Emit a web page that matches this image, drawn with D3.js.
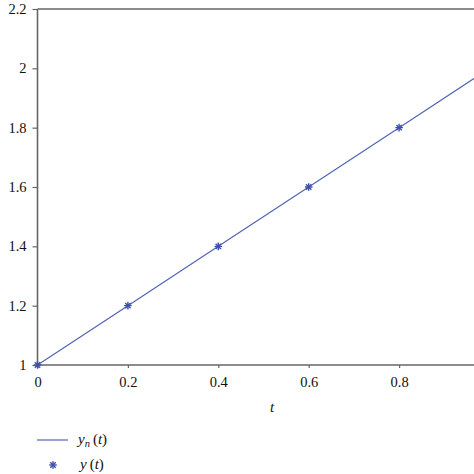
<!DOCTYPE html>
<html>
<head>
<meta charset="utf-8">
<script src="https://cdn.jsdelivr.net/npm/d3@7"></script>
<style>
  html, body { margin: 0; padding: 0; background: #fff; }
  svg { display: block; }
</style>
</head>
<body>
<svg id="chart" width="474" height="474"></svg>
<script>
// values
const tValues = [0, 0.2, 0.4, 0.6, 0.8, 1.0];
const ynValues = [1, 1.2, 1.4, 1.6, 1.8, 2.0];
const yExact = [1, 1.2, 1.4, 1.6, 1.8, 2.0];
const xTicks = [0, 0.2, 0.4, 0.6, 0.8];
const yTicks = [1, 1.2, 1.4, 1.6, 1.8, 2, 2.2];
const legendLabels = ["yn", "y"];

const svg = d3.select("#chart");
const FONT = "'Liberation Serif', 'Times New Roman', serif";
const AXIS_COLOR = "#666";
const LINE_COLOR = "#5264b4";
const MARK_COLOR = "#3c4fae";

const x = d3.scaleLinear().domain([0, 0.2]).range([37.5, 127.9]);
const y = d3.scaleLinear().domain([1, 2.2]).range([365, 9]);

const plotRight = 474;

// clip so the line runs off the right edge like the reference
svg.append("defs").append("clipPath").attr("id", "plot-clip")
  .append("rect")
    .attr("x", x(0) - 6).attr("y", y(2.2))
    .attr("width", plotRight - x(0) + 6).attr("height", y(1) - y(2.2) + 6);

// y axis
const yAxis = svg.append("g")
    .attr("transform", `translate(${x(0)},0)`)
    .call(d3.axisLeft(y).tickValues(yTicks).tickSize(5).tickPadding(6)
      .tickFormat(d => d3.format("~g")(d)));
yAxis.select(".domain").remove();

// x axis
const xAxis = svg.append("g")
    .attr("transform", `translate(0,${y(1)})`)
    .call(d3.axisBottom(x).tickValues(xTicks).tickSize(3).tickPadding(9)
      .tickFormat(d => d3.format("~g")(d)));
xAxis.select(".domain").remove();

[yAxis, xAxis].forEach(g => {
  g.attr("font-family", FONT).attr("font-size", 14.5);
  g.selectAll(".tick line").attr("stroke", AXIS_COLOR).attr("stroke-width", 1.2);
  g.selectAll(".tick text")
      .style("fill", "#111")
      .style("font-family", FONT)
      .style("font-size", "14.5px");
});

// frame lines (left, bottom, top)
const frame = svg.append("g").attr("stroke", AXIS_COLOR).attr("stroke-width", 1.6);
frame.append("line").attr("x1", x(0)).attr("x2", x(0)).attr("y1", y(2.2)).attr("y2", y(1));
frame.append("line").attr("x1", x(0)).attr("x2", plotRight).attr("y1", y(1)).attr("y2", y(1));
frame.append("line").attr("x1", x(0)).attr("x2", plotRight).attr("y1", y(2.2)).attr("y2", y(2.2));

// approximate solution line
const lineData = tValues.map((t, i) => [t, ynValues[i]]);
svg.append("path")
    .datum(lineData)
    .attr("clip-path", "url(#plot-clip)")
    .attr("fill", "none")
    .attr("stroke", LINE_COLOR)
    .attr("stroke-width", 1.2)
    .attr("d", d3.line().x(d => x(d[0])).y(d => y(d[1])));

// asterisk marker
function asterisk(g, cx, cy, r) {
  const m = g.append("g").attr("transform", `translate(${cx},${cy})`)
      .attr("stroke", MARK_COLOR).attr("stroke-width", 1.4);
  [0, 45, 90, 135].forEach(a => {
    const rad = a * Math.PI / 180;
    m.append("line")
      .attr("x1", -r * Math.cos(rad)).attr("y1", -r * Math.sin(rad))
      .attr("x2", r * Math.cos(rad)).attr("y2", r * Math.sin(rad));
  });
}

const marks = svg.append("g").attr("clip-path", "url(#plot-clip)");
tValues.forEach((t, i) => asterisk(marks, x(t), y(yExact[i]), 3.8));

// x label
svg.append("text")
    .attr("x", 272).attr("y", 412)
    .attr("text-anchor", "middle")
    .attr("font-family", FONT)
    .attr("font-style", "italic")
    .attr("font-size", 15)
    .attr("fill", "#111")
    .text("t");

// legend
const legend = svg.append("g")
    .attr("font-family", FONT)
    .attr("font-size", 15)
    .attr("fill", "#111");

legend.append("line")
    .attr("x1", 37).attr("x2", 68).attr("y1", 440).attr("y2", 440)
    .attr("stroke", LINE_COLOR).attr("stroke-width", 1.2);
const t1 = legend.append("text").attr("x", 78).attr("y", 444);
t1.append("tspan").attr("font-style", "italic").text("y");
t1.append("tspan").attr("font-style", "italic").attr("font-size", 10.5).attr("dy", 3).text("n");
t1.append("tspan").attr("dy", -3).text("\u2009(");
t1.append("tspan").attr("font-style", "italic").text("t");
t1.append("tspan").text(")");

asterisk(legend, 53, 465, 3.8);
const t2 = legend.append("text").attr("x", 80).attr("y", 469);
t2.append("tspan").attr("font-style", "italic").text(legendLabels[1]);
t2.append("tspan").text("\u2009(");
t2.append("tspan").attr("font-style", "italic").text("t");
t2.append("tspan").text(")");
</script>
</body>
</html>
